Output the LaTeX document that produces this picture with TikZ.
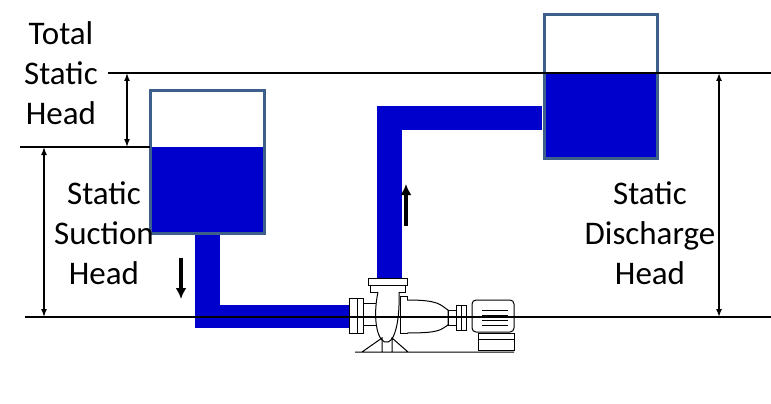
\documentclass[tikz,border=0pt]{standalone}
\usepackage{fontspec}
\setmainfont{Carlito}
\usetikzlibrary{arrows.meta}
\begin{document}
\begin{tikzpicture}[x=1pt,y=-1pt,
  tank/.style={draw=tankblue,line width=3pt},
  lvl/.style={line width=1.6pt},
  dim/.style={line width=1.5pt,{Latex[length=8pt]}-{Latex[length=8pt]}},
  flow/.style={line width=3.5pt,-{Latex[length=11pt,width=11pt]}},
  lbl/.style={font=\fontsize{33}{40}\selectfont,align=center},
  pmp/.style={draw,line width=1pt,fill=white}]
\definecolor{tankblue}{RGB}{60,95,140}
\colorlet{wb}{blue!80!black}
\useasboundingbox (0,0) rectangle (771,404);
% pipes
\fill[wb] (195,230) rectangle (220,328);
\fill[wb] (195,305) rectangle (352,328);
\fill[wb] (377,106) rectangle (402,282);
\fill[wb] (377,106) rectangle (542,130);
% tanks
\fill[wb] (150,147) rectangle (264,233);
\draw[tank] (150,90) rectangle (264,233);
\fill[wb] (544,73) rectangle (657,158);
\draw[tank] (544,15) rectangle (657,158);
% pump
\draw[pmp] (368,278) rectangle (407,285);
\draw[pmp] (370,285) rectangle (405,292);
\draw[pmp] (364,303) -- (378,303) -- (378,325) -- (364,325);
\draw[pmp] (349,298) rectangle (357,333);
\draw[pmp] (357,298) rectangle (363,333);
\draw[pmp] (378,292) .. controls (372,320) and (378,345) .. (388,342) .. controls (395,340) and (400,320) .. (399,292);
\draw[pmp] (400,296) rectangle (407,333);
\draw[pmp] (407,300) .. controls (440,300) and (440,305) .. (448,310) -- (448,325) .. controls (440,330) and (440,333) .. (407,333);
\draw[pmp] (448,310) rectangle (456,325);
\draw[pmp] (456,305) rectangle (461,330);
\draw[pmp] (461,305) rectangle (466,330);
\draw[pmp,rounded corners=4pt] (472,300) rectangle (514,332);
\draw[line width=1pt] (482,310)--(508,310) (482,315)--(508,315) (482,320)--(508,320) (482,325)--(508,325);
\draw[pmp] (478,333) rectangle (514,339);
\draw[pmp] (478,339) rectangle (514,350);
\draw[line width=1pt] (362,352) -- (382,338) -- (382,352) (392,352) -- (392,338) -- (408,352) (355,352) -- (514,352);
% level lines
\draw[lvl] (108,73) -- (771,73);
\draw[lvl] (20,147) -- (150,147);
\draw[lvl] (25,317) -- (771,317);
% dims
\draw[dim] (127,73) -- (127,147);
\draw[dim] (44,147) -- (44,317);
\draw[dim] (719,73) -- (719,317);
% flow arrows
\draw[flow] (181,258) -- (181,299);
\draw[flow] (406,226) -- (406,184);
% labels
\node[lbl] at (61,73) {Total\\Static\\Head};
\node[lbl] at (104,233) {Static\\Suction\\Head};
\node[lbl] at (650,233) {Static\\Discharge\\Head};
\end{tikzpicture}
\end{document}
